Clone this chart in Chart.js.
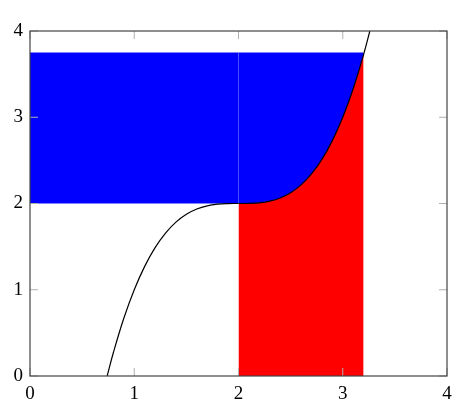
<!DOCTYPE html>
<html>
<head>
<meta charset="utf-8">
<script src="https://cdn.jsdelivr.net/npm/chart.js@4.4.1/dist/chart.umd.min.js"></script>
<style>
  html, body { margin: 0; padding: 0; background: #fff; }
  #wrap { width: 474px; height: 412px; }
</style>
</head>
<body>
<div id="wrap"><canvas id="plot" width="474" height="412"></canvas></div>
<script>
// tick values on both axes
var tickValues = [0, 1, 2, 3, 4];

// black curve
var curveX = [0.74, 0.8, 0.9, 1.0, 1.1, 1.2, 1.3, 1.4, 1.5, 1.6, 1.7, 1.8, 1.9, 2.0,
              2.1, 2.2, 2.3, 2.4, 2.5, 2.6, 2.7, 2.8, 2.9, 3.0, 3.1, 3.2, 3.26];
var curveY = [0, 0.272, 0.669, 1.0, 1.271, 1.488, 1.657, 1.784, 1.875, 1.936, 1.973, 1.992, 1.999, 2.0,
              2.001, 2.008, 2.027, 2.064, 2.125, 2.216, 2.343, 2.512, 2.729, 3.0, 3.331, 3.728, 4.0];

// red area under the curve (x from 2 to 3.2)
var redX = [2.0, 2.1, 2.2, 2.3, 2.4, 2.5, 2.6, 2.7, 2.8, 2.9, 3.0, 3.1, 3.2];
var redY = [2.0, 2.001, 2.008, 2.027, 2.064, 2.125, 2.216, 2.343, 2.512, 2.729, 3.0, 3.331, 3.728];

// blue area: bottom edge (flat at 2, then the curve), filled up to the top level
var blueX = [0, 1.0, 2.0, 2.1, 2.2, 2.3, 2.4, 2.5, 2.6, 2.7, 2.8, 2.9, 3.0, 3.1, 3.2];
var blueY = [2.0, 2.0, 2.0, 2.001, 2.008, 2.027, 2.064, 2.125, 2.216, 2.343, 2.512, 2.729, 3.0, 3.331, 3.728];
var blueTop = 3.75;

function pts(xs, ys){
    var out = []
    for(let i = 0;i<xs.length;i++){
        out.push({x: xs[i], y: ys[i]})
    }
    return out
}

const framePlugin = {
    id: 'frame',
    afterDatasetsDraw(chart){
        const c = chart.ctx, a = chart.chartArea
        const sx = chart.scales.x, sy = chart.scales.y
        c.save()
        // faint seam between the two blue pieces at x = 2
        c.strokeStyle = 'rgba(255,255,255,0.3)'
        c.lineWidth = 1
        c.beginPath()
        c.moveTo(sx.getPixelForValue(2), sy.getPixelForValue(blueTop))
        c.lineTo(sx.getPixelForValue(2), sy.getPixelForValue(2))
        c.stroke()

        c.strokeStyle = '#b0b0b0'
        c.lineWidth = 1
        c.beginPath()
        tickValues.forEach(function(v){
            var px = sx.getPixelForValue(v)
            c.moveTo(px, a.bottom); c.lineTo(px, a.bottom - 8)
            c.moveTo(px, a.top); c.lineTo(px, a.top + 8)
            var py = sy.getPixelForValue(v)
            c.moveTo(a.left, py); c.lineTo(a.left + 8, py)
            c.moveTo(a.right, py); c.lineTo(a.right - 8, py)
        })
        c.stroke()
        c.strokeStyle = '#444'
        c.lineWidth = 1.2
        c.strokeRect(a.left, a.top, a.right - a.left, a.bottom - a.top)
        c.restore()
    }
}

const ctx = document.getElementById('plot');
new Chart(ctx, {
    type: 'line',
    data: {
        datasets: [
            {
                label: 'curve',
                data: pts(curveX, curveY),
                borderColor: '#000',
                borderWidth: 1.2,
                pointRadius: 0,
                fill: false,
                tension: 0.4,
                order: 0
            },
            {
                label: 'red',
                data: pts(redX, redY),
                borderWidth: 0,
                borderColor: 'rgba(0,0,0,0)',
                backgroundColor: '#ff0000',
                pointRadius: 0,
                fill: 'origin',
                tension: 0.4,
                order: 2
            },
            {
                label: 'blue',
                data: pts(blueX, blueY),
                borderWidth: 0,
                borderColor: 'rgba(0,0,0,0)',
                backgroundColor: '#0000ff',
                pointRadius: 0,
                fill: {value: blueTop},
                tension: 0.4,
                order: 1
            }
        ]
    },
    options: {
        responsive: false,
        animation: false,
        devicePixelRatio: 1,
        layout: { padding: { left: 0, top: 31, right: 27, bottom: 0 } },
        plugins: { legend: { display: false }, tooltip: { enabled: false } },
        scales: {
            x: {
                type: 'linear',
                min: 0, max: 4,
                afterBuildTicks: function(s){ s.ticks = tickValues.map(function(v){ return {value: v} }) },
                afterFit: function(s){ s.height = 36 },
                grid: { display: false, drawTicks: false },
                border: { display: false },
                ticks: { padding: 7, color: '#000', font: { family: 'Liberation Serif', size: 19 } }
            },
            y: {
                type: 'linear',
                min: 0, max: 4,
                afterBuildTicks: function(s){ s.ticks = tickValues.map(function(v){ return {value: v} }) },
                afterFit: function(s){ s.width = 30 },
                grid: { display: false, drawTicks: false },
                border: { display: false },
                ticks: { padding: 7, color: '#000', font: { family: 'Liberation Serif', size: 19 } }
            }
        }
    },
    plugins: [framePlugin]
});
</script>
</body>
</html>
